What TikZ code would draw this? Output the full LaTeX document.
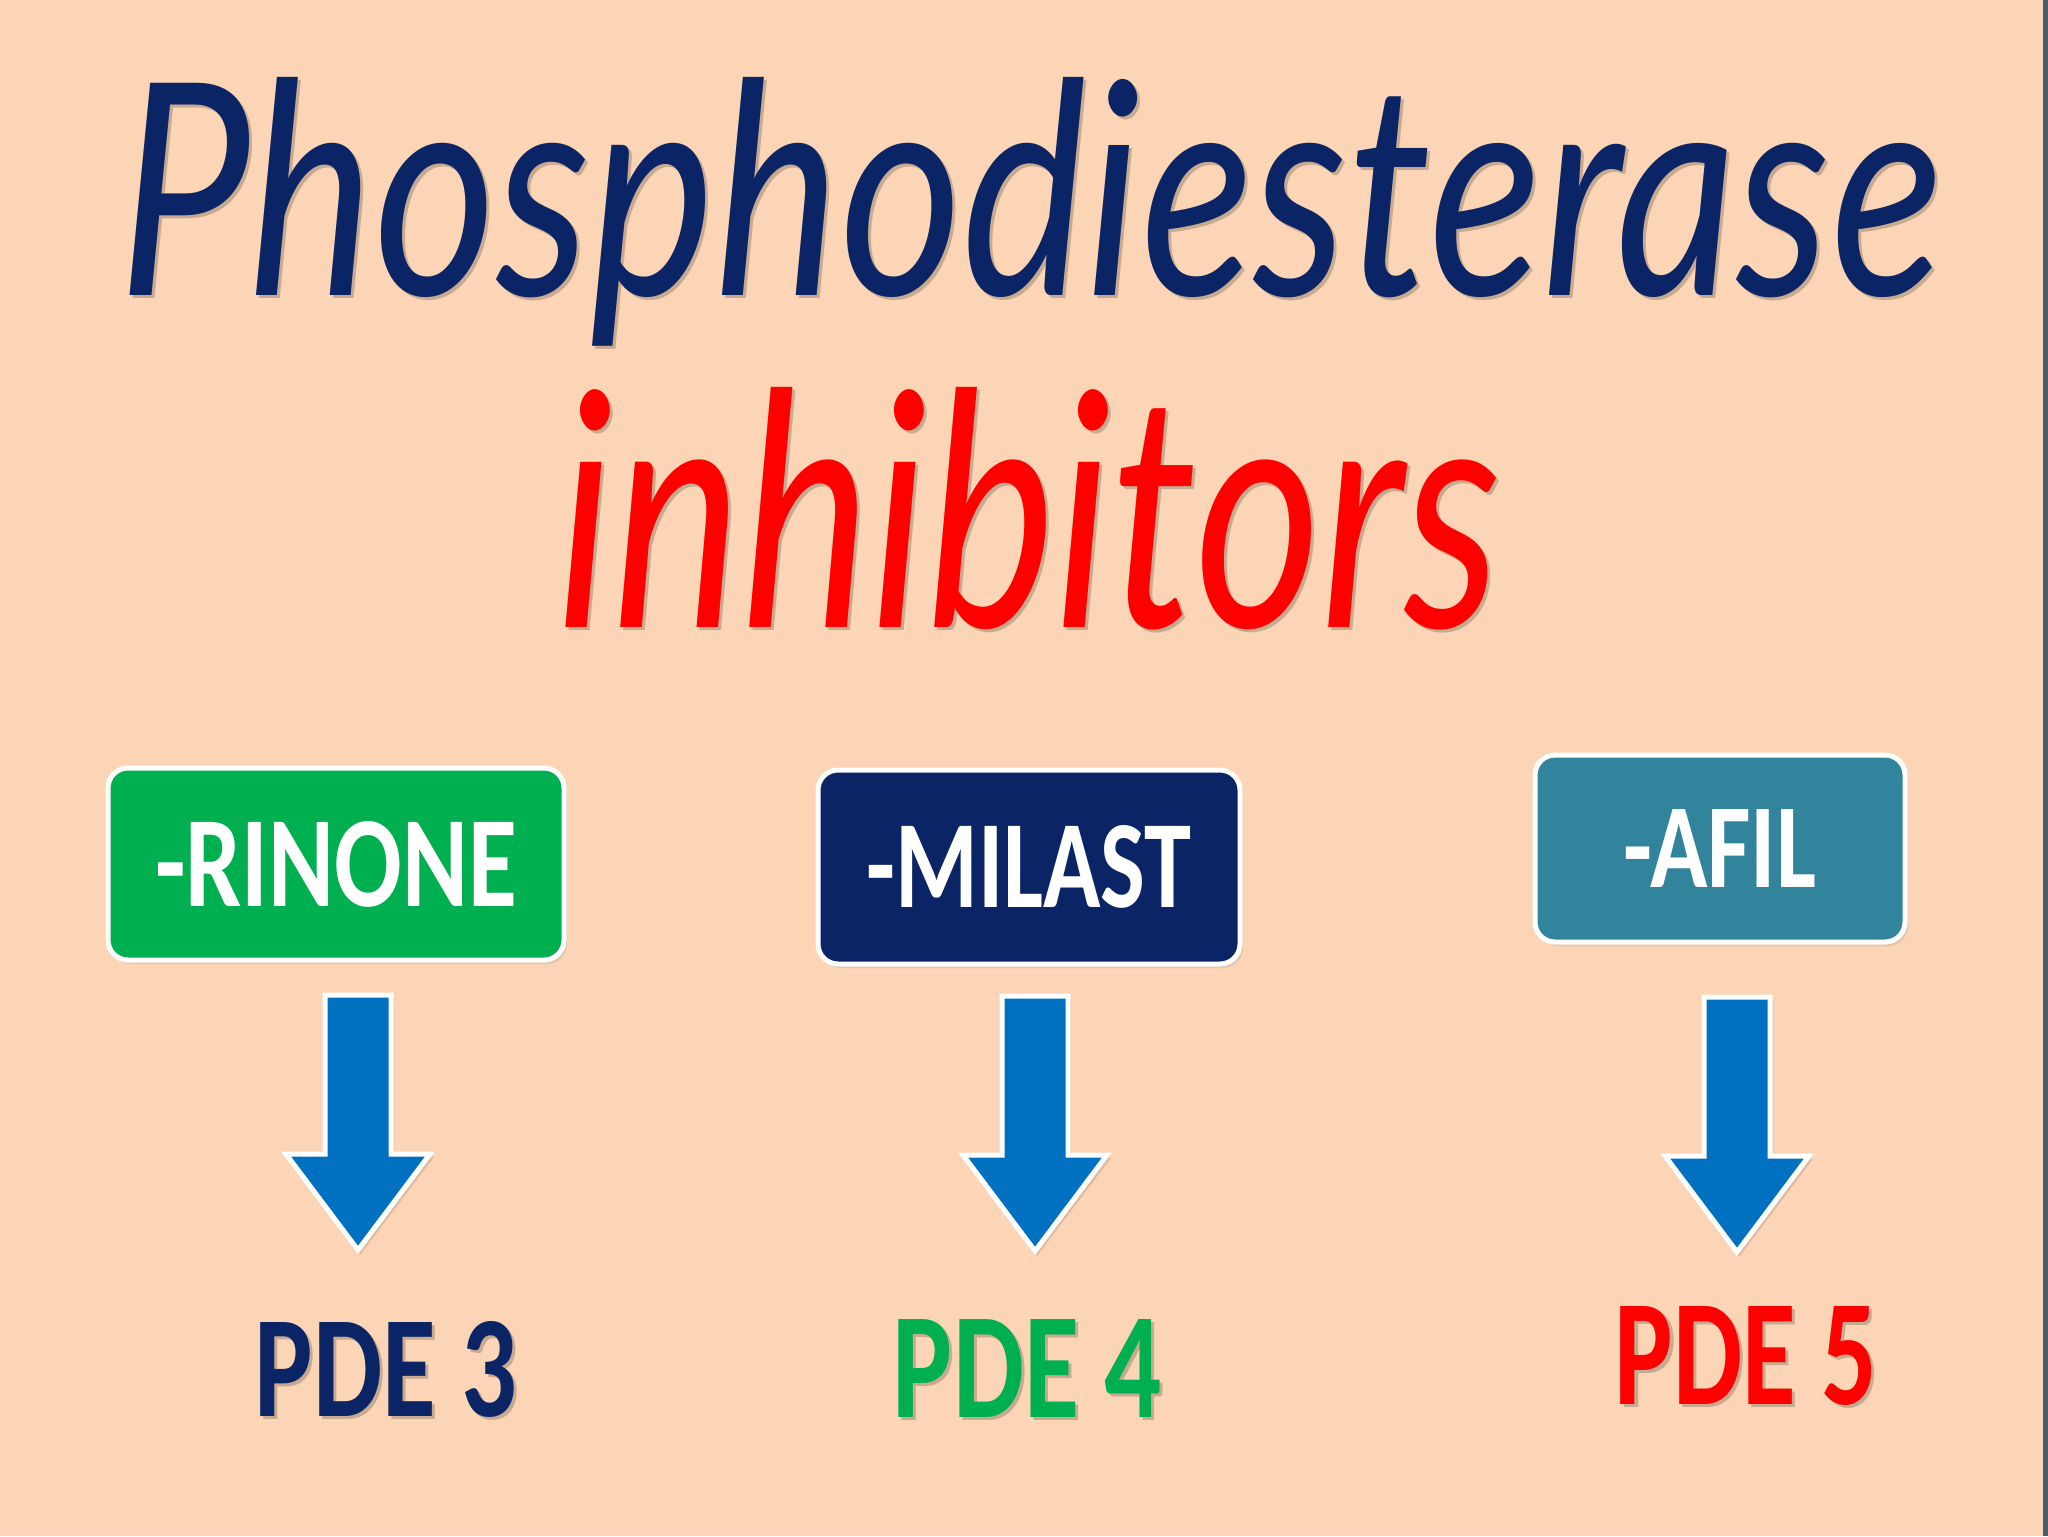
\documentclass[tikz,border=0pt]{standalone}
\usepackage{fontspec}
\usepackage{graphicx}
\setmainfont{Carlito}
\newfontfamily\titlefont{Lato}
\usetikzlibrary{calc,shadows}
\definecolor{bg}{HTML}{FBD5B5}
\definecolor{navy}{HTML}{0A2466}
\definecolor{pgreen}{HTML}{00B050}
\definecolor{pteal}{HTML}{31849B}
\definecolor{pblue}{HTML}{0070C0}
\definecolor{pred}{HTML}{FF0000}
\definecolor{edgebar}{HTML}{4B5B68}
\begin{document}
\begin{tikzpicture}[x=0.5pt,y=-0.5pt,
  box/.style={draw=white, line width=2.5pt, rounded corners=10pt, inner sep=0pt, text=white,
    drop shadow={opacity=0.18, shadow xshift=1.5pt, shadow yshift=-2pt}},
  txt/.style={inner sep=0pt},
  tshadow/.style={inner sep=0pt, text=black, text opacity=0.2},
  arrowpath/.style={line width=2.5pt, draw=white, fill=pblue, line join=miter},
  downarrow/.pic={
    \fill[black, opacity=0.12] (-34,3) -- (36,3) -- (36,162) -- (76,162) -- (2,260) -- (-72,162) -- (-34,162) -- cycle;
    \draw[arrowpath] (-33,0) -- (33,0) -- (33,159) -- (72,159) -- (0,255) -- (-72,159) -- (-33,159) -- cycle;
  }]
\useasboundingbox (0,0) rectangle (2048,1536);
\fill[bg] (0,0) rectangle (2048,1536);
\fill[edgebar] (2043,0) rectangle (2048,1536);

% title
\node[tshadow, anchor=base west] (title1s) at (121,298) {\resizebox{912pt}{109pt}{\titlefont\itshape Phosphodiesterase}};
\node[txt, anchor=base west, text=navy] (title1) at (118,295) {\resizebox{912pt}{109pt}{\titlefont\itshape Phosphodiesterase}};
\node[tshadow, anchor=base west] (title2s) at (560,630) {\resizebox{471.5pt}{120pt}{\titlefont\itshape inhibitors}};
\node[txt, anchor=base west, text=pred] (title2) at (557,627) {\resizebox{471.5pt}{120pt}{\titlefont\itshape inhibitors}};

% boxes
\node[box, fill=pgreen, minimum width=228pt, minimum height=96pt] (b1) at (336,864) {\resizebox{181pt}{42.5pt}{\bfseries -RINONE}};
\node[box, fill=navy, minimum width=211pt, minimum height=97pt] (b2) at (1029,867) {\resizebox{162.5pt}{41pt}{\bfseries -MILAST}};
\node[box, fill=pteal, minimum width=185pt, minimum height=93.5pt] (b3) at (1720,848.5) {\resizebox{96pt}{39pt}{\bfseries -AFIL}};

% arrows
\pic (a1) at (358,995) {downarrow};
\pic (a2) at (1035,996) {downarrow};
\pic (a3) at (1737,997) {downarrow};

% labels
\node[tshadow] (p3s) at (389,1372.5) {\resizebox{131pt}{47.5pt}{\bfseries PDE 3}};
\node[txt, text=navy] (p3) at (386,1369.5) {\resizebox{131pt}{47.5pt}{\bfseries PDE 3}};
\node[tshadow] (p4s) at (1030.5,1371) {\resizebox{134.5pt}{49pt}{\bfseries PDE 4}};
\node[txt, text=pgreen] (p4) at (1027.5,1368) {\resizebox{134.5pt}{49pt}{\bfseries PDE 4}};
\node[tshadow] (p5s) at (1749,1359) {\resizebox{131pt}{49pt}{\bfseries PDE 5}};
\node[txt, text=pred] (p5) at (1746,1356) {\resizebox{131pt}{49pt}{\bfseries PDE 5}};
\end{tikzpicture}
\end{document}
